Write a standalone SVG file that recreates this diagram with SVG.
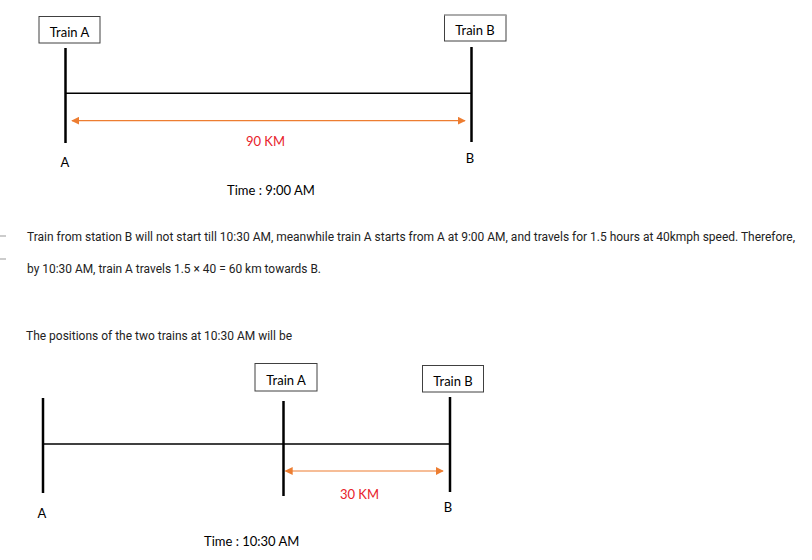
<svg xmlns="http://www.w3.org/2000/svg" width="812" height="560" viewBox="0 0 812 560">
<style>
.box{fill:#fff;stroke:#404040;stroke-width:1}
.lbl{font-family:Lato,"Open Sans",sans-serif;font-size:13px;fill:#000}
.post{stroke:#000;stroke-width:2.5}
.track{stroke:#000;stroke-width:1.5}
.dist{stroke:#ed7d31;stroke-width:1.2;fill:none}
.red{font-family:Lato,"Open Sans",sans-serif;font-size:13px;fill:#e8222b}
.para{font-family:Roboto,"Liberation Sans",sans-serif;font-size:12px;fill:#222}
</style>
<defs>
<marker id="ah" viewBox="0 0 10 10" refX="9" refY="5" markerWidth="8" markerHeight="8" orient="auto-start-reverse" markerUnits="userSpaceOnUse">
<path d="M0,0 L10,5 L0,10 z" fill="#ed7d31"/>
</marker>
</defs>
<rect width="812" height="560" fill="#fff"/>

<g id="top-trainA"><rect class="box" x="39" y="16.5" width="61" height="26.5"/><text class="lbl" x="69.5" y="36.5" text-anchor="middle">Train A</text></g>
<g id="top-trainB"><rect class="box" x="444.5" y="15" width="61.5" height="26"/><line x1="444.5" y1="15" x2="506" y2="15" stroke="#b0b0b0" stroke-width="1.5"/><text class="lbl" x="475" y="34.5" text-anchor="middle">Train B</text></g>
<g id="top-stationA"><line class="post" x1="65.5" y1="48" x2="65.5" y2="143"/><text class="lbl" x="65" y="167" text-anchor="middle">A</text></g>
<g id="top-stationB"><line class="post" x1="471.5" y1="47" x2="471.5" y2="142"/><text class="lbl" x="470" y="163" text-anchor="middle">B</text></g>
<g id="connectors">
<line class="track" x1="66" y1="93.3" x2="471" y2="93.3"/>
<line class="dist" x1="72" y1="120.7" x2="465" y2="120.7" marker-start="url(#ah)" marker-end="url(#ah)"/>
<line class="track" x1="43" y1="444" x2="450" y2="444"/>
<line class="dist" x1="285.5" y1="471" x2="443" y2="471" marker-start="url(#ah)" marker-end="url(#ah)"/>
</g>
<text class="red" x="265.5" y="145.5" text-anchor="middle">90 KM</text>
<text class="lbl" x="227" y="194.5">Time : 9:00 AM</text>

<line x1="0" y1="236" x2="6" y2="236" stroke="#999" stroke-width="1"/>
<line x1="0" y1="259" x2="6" y2="259" stroke="#999" stroke-width="1"/>
<text class="para" x="27" y="241" textLength="768" lengthAdjust="spacingAndGlyphs">Train from station B will not start till 10:30 AM, meanwhile train A starts from A at 9:00 AM, and travels for 1.5 hours at 40kmph speed. Therefore,</text>
<text class="para" x="27" y="273" textLength="294" lengthAdjust="spacingAndGlyphs">by 10:30 AM, train A travels 1.5 × 40 = 60 km towards B.</text>
<text class="para" x="26" y="340" textLength="266" lengthAdjust="spacingAndGlyphs">The positions of the two trains at 10:30 AM will be</text>

<g id="bot-stationA"><line class="post" x1="43" y1="398" x2="43" y2="493"/><text class="lbl" x="42" y="518" text-anchor="middle">A</text></g>
<g id="bot-trainA"><rect class="box" x="255" y="363.5" width="62" height="27.5"/><text class="lbl" x="286" y="384.5" text-anchor="middle">Train A</text><line class="post" x1="283.5" y1="401" x2="283.5" y2="496"/></g>
<g id="bot-trainB"><rect class="box" x="422.5" y="365.5" width="61" height="26.5"/><text class="lbl" x="453" y="386" text-anchor="middle">Train B</text></g>
<g id="bot-stationB"><line class="post" x1="450" y1="397" x2="450" y2="492"/><text class="lbl" x="448" y="512" text-anchor="middle">B</text></g>
<text class="red" x="359.5" y="499" text-anchor="middle">30 KM</text>
<text class="lbl" x="204" y="545.5">Time : 10:30 AM</text>
</svg>
